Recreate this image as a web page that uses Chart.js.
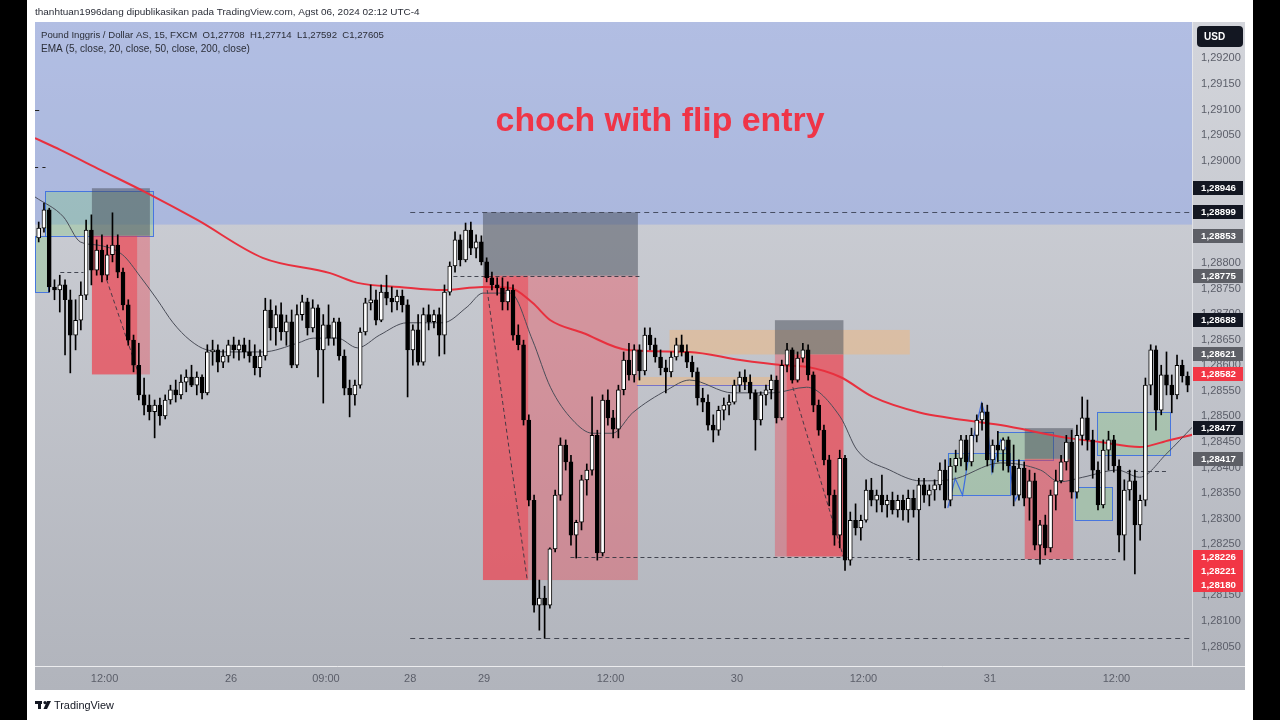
<!DOCTYPE html>
<html><head><meta charset="utf-8">
<script src="https://cdn.jsdelivr.net/npm/chart.js@4.4.1/dist/chart.umd.min.js"></script>
<style>
html,body{margin:0;padding:0;background:#000;width:1280px;height:720px;overflow:hidden}
canvas{position:absolute;left:0;top:0}
</style></head><body>
<canvas id="c" width="1280" height="720"></canvas>
<script>
// GBP/USD 15 (drawn as 30-min candles), hours of trading time from 29 Jul 00:00
const opens=[
1.28849,1.28868,1.28904,1.28753,1.28747,1.28757,1.28728,1.28659,1.28688,1.28737,
1.28864,1.28786,1.28825,1.28776,1.28816,1.28835,1.28782,1.28718,1.28649,1.28600,
1.28542,1.28522,1.28509,1.28522,1.28501,1.28532,1.28552,1.28542,1.28567,1.28577,
1.28561,1.28577,1.28546,1.28626,1.28630,1.28606,1.28618,1.28640,1.28630,1.28640,
1.28626,1.28618,1.28595,1.28618,1.28708,1.28673,1.28699,1.28665,1.28685,1.28600,
1.28699,1.28724,1.28673,1.28712,1.28630,1.28679,1.28653,1.28685,1.28618,1.28555,
1.28542,1.28561,1.28665,1.28722,1.28728,1.28688,1.28743,1.28731,1.28724,1.28735,
1.28718,1.28630,1.28669,1.28606,1.28699,1.28685,1.28699,1.28659,1.28743,1.28794,
1.28845,1.28806,1.28864,1.28829,1.28841,1.28802,1.28771,1.28757,1.28751,1.28724,
1.28747,1.28659,1.28640,1.28493,1.28336,1.28131,1.28145,1.28131,1.28241,1.28346,
1.28444,1.28411,1.28268,1.28293,1.28376,1.28395,1.28463,1.28233,1.28532,1.28497,
1.28475,1.28552,1.28610,1.28581,1.28630,1.28589,1.28659,1.28640,1.28616,1.28595,
1.28587,1.28616,1.28640,1.28626,1.28606,1.28587,1.28536,1.28528,1.28483,1.28473,
1.28512,1.28522,1.28528,1.28561,1.28577,1.28567,1.28546,1.28493,1.28542,1.28552,
1.28571,1.28497,1.28600,1.28630,1.28571,1.28614,1.28630,1.28581,1.28522,1.28473,
1.28415,1.28346,1.28268,1.28418,1.28219,1.28297,1.28282,1.28297,1.28356,1.28336,
1.28346,1.28327,1.28336,1.28317,1.28336,1.28317,1.28340,1.28317,1.28366,1.28346,
1.28356,1.28366,1.28395,1.28336,1.28403,1.28418,1.28454,1.28411,1.28463,1.28493,
1.28509,1.28415,1.28444,1.28434,1.28454,1.28403,1.28346,1.28399,1.28340,1.28374,
1.28248,1.28288,1.28243,1.28346,1.28374,1.28411,1.28450,1.28352,1.28463,1.28497,
1.28454,1.28395,1.28327,1.28434,1.28454,1.28403,1.28268,1.28356,1.28374,1.28288,
1.28336,1.28561,1.28630,1.28512,1.28581,1.28561,1.28542,1.28600,1.28579];
const highs=[
1.28880,1.28917,1.28907,1.28767,1.28776,1.28767,1.28747,1.28728,1.28763,1.28884,
1.28894,1.28845,1.28855,1.28835,1.28898,1.28855,1.28790,1.28728,1.28659,1.28643,
1.28575,1.28542,1.28532,1.28536,1.28542,1.28561,1.28571,1.28581,1.28591,1.28600,
1.28587,1.28581,1.28640,1.28649,1.28640,1.28630,1.28649,1.28655,1.28649,1.28653,
1.28649,1.28640,1.28630,1.28731,1.28728,1.28716,1.28722,1.28698,1.28708,1.28718,
1.28737,1.28731,1.28728,1.28718,1.28699,1.28718,1.28692,1.28692,1.28630,1.28571,
1.28571,1.28673,1.28731,1.28757,1.28747,1.28757,1.28776,1.28753,1.28747,1.28747,
1.28728,1.28679,1.28699,1.28712,1.28718,1.28708,1.28712,1.28757,1.28802,1.28861,
1.28855,1.28878,1.28880,1.28855,1.28853,1.28810,1.28782,1.28771,1.28771,1.28763,
1.28757,1.28679,1.28649,1.28503,1.28346,1.28180,1.28168,1.28243,1.28356,1.28458,
1.28454,1.28424,1.28297,1.28385,1.28407,1.28538,1.28473,1.28542,1.28552,1.28512,
1.28561,1.28626,1.28643,1.28640,1.28640,1.28673,1.28673,1.28653,1.28630,1.28610,
1.28626,1.28653,1.28659,1.28640,1.28618,1.28595,1.28555,1.28542,1.28503,1.28520,
1.28536,1.28542,1.28571,1.28587,1.28591,1.28581,1.28552,1.28548,1.28561,1.28581,
1.28579,1.28610,1.28643,1.28634,1.28626,1.28643,1.28640,1.28587,1.28532,1.28483,
1.28424,1.28356,1.28434,1.28424,1.28313,1.28329,1.28307,1.28376,1.28379,1.28356,
1.28385,1.28346,1.28352,1.28346,1.28346,1.28356,1.28356,1.28379,1.28379,1.28366,
1.28376,1.28409,1.28415,1.28418,1.28434,1.28463,1.28463,1.28477,1.28503,1.28526,
1.28522,1.28454,1.28471,1.28458,1.28460,1.28444,1.28415,1.28411,1.28395,1.28389,
1.28297,1.28307,1.28356,1.28395,1.28424,1.28463,1.28473,1.28483,1.28538,1.28532,
1.28473,1.28411,1.28454,1.28471,1.28463,1.28415,1.28376,1.28395,1.28395,1.28346,
1.28575,1.28640,1.28638,1.28600,1.28626,1.28581,1.28620,1.28610,1.28587];
const lows=[
1.28841,1.28860,1.28743,1.28728,1.28704,1.28620,1.28585,1.28630,1.28669,1.28728,
1.28757,1.28776,1.28763,1.28767,1.28802,1.28771,1.28708,1.28639,1.28587,1.28532,
1.28503,1.28493,1.28458,1.28483,1.28495,1.28524,1.28528,1.28534,1.28548,1.28558,
1.28542,1.28534,1.28542,1.28600,1.28587,1.28595,1.28606,1.28614,1.28610,1.28614,
1.28606,1.28581,1.28577,1.28610,1.28649,1.28639,1.28649,1.28639,1.28595,1.28595,
1.28688,1.28659,1.28665,1.28577,1.28526,1.28639,1.28639,1.28610,1.28542,1.28499,
1.28522,1.28555,1.28659,1.28708,1.28679,1.28685,1.28718,1.28704,1.28708,1.28704,
1.28538,1.28600,1.28600,1.28600,1.28669,1.28673,1.28618,1.28622,1.28737,1.28782,
1.28794,1.28802,1.28816,1.28810,1.28796,1.28763,1.28747,1.28737,1.28708,1.28708,
1.28649,1.28630,1.28483,1.28325,1.28117,1.28082,1.28066,1.28125,1.28235,1.28336,
1.28395,1.28248,1.28223,1.28278,1.28346,1.28385,1.28219,1.28227,1.28483,1.28458,
1.28458,1.28542,1.28571,1.28567,1.28571,1.28581,1.28630,1.28606,1.28581,1.28546,
1.28577,1.28610,1.28618,1.28595,1.28577,1.28522,1.28509,1.28473,1.28450,1.28463,
1.28493,1.28503,1.28524,1.28548,1.28552,1.28534,1.28434,1.28483,1.28522,1.28534,
1.28487,1.28493,1.28587,1.28565,1.28567,1.28606,1.28571,1.28509,1.28463,1.28405,
1.28325,1.28248,1.28243,1.28199,1.28209,1.28268,1.28258,1.28293,1.28325,1.28313,
1.28313,1.28303,1.28309,1.28303,1.28297,1.28293,1.28303,1.28219,1.28332,1.28325,
1.28336,1.28356,1.28321,1.28325,1.28391,1.28403,1.28395,1.28403,1.28450,1.28473,
1.28403,1.28391,1.28411,1.28395,1.28391,1.28325,1.28336,1.28325,1.28297,1.28239,
1.28211,1.28229,1.28235,1.28317,1.28370,1.28395,1.28340,1.28340,1.28444,1.28434,
1.28379,1.28317,1.28321,1.28395,1.28391,1.28235,1.28219,1.28336,1.28192,1.28258,
1.28325,1.28542,1.28473,1.28503,1.28542,1.28507,1.28534,1.28567,1.28548];
const closes=[
1.28868,1.28904,1.28753,1.28747,1.28757,1.28728,1.28659,1.28688,1.28737,1.28864,
1.28786,1.28825,1.28776,1.28816,1.28835,1.28782,1.28718,1.28649,1.28600,1.28542,
1.28522,1.28509,1.28522,1.28501,1.28532,1.28552,1.28542,1.28567,1.28577,1.28561,
1.28577,1.28546,1.28626,1.28630,1.28606,1.28618,1.28640,1.28630,1.28640,1.28626,
1.28618,1.28595,1.28618,1.28708,1.28673,1.28699,1.28665,1.28685,1.28600,1.28699,
1.28724,1.28673,1.28712,1.28630,1.28679,1.28653,1.28685,1.28618,1.28555,1.28542,
1.28561,1.28665,1.28722,1.28728,1.28688,1.28743,1.28731,1.28724,1.28735,1.28718,
1.28630,1.28669,1.28606,1.28699,1.28685,1.28699,1.28659,1.28743,1.28794,1.28845,
1.28806,1.28864,1.28829,1.28841,1.28802,1.28771,1.28757,1.28751,1.28724,1.28747,
1.28659,1.28640,1.28493,1.28336,1.28131,1.28145,1.28131,1.28241,1.28346,1.28444,
1.28411,1.28268,1.28293,1.28376,1.28395,1.28463,1.28233,1.28532,1.28497,1.28475,
1.28552,1.28610,1.28581,1.28630,1.28589,1.28659,1.28640,1.28616,1.28595,1.28587,
1.28616,1.28640,1.28626,1.28606,1.28587,1.28536,1.28528,1.28483,1.28473,1.28512,
1.28522,1.28528,1.28561,1.28577,1.28567,1.28546,1.28493,1.28542,1.28552,1.28571,
1.28497,1.28600,1.28630,1.28571,1.28614,1.28630,1.28581,1.28522,1.28473,1.28415,
1.28346,1.28268,1.28418,1.28219,1.28297,1.28282,1.28297,1.28356,1.28336,1.28346,
1.28327,1.28336,1.28317,1.28336,1.28317,1.28340,1.28317,1.28366,1.28346,1.28356,
1.28366,1.28395,1.28336,1.28403,1.28418,1.28454,1.28411,1.28463,1.28493,1.28509,
1.28415,1.28444,1.28434,1.28454,1.28403,1.28346,1.28399,1.28340,1.28374,1.28248,
1.28288,1.28243,1.28346,1.28374,1.28411,1.28450,1.28352,1.28463,1.28497,1.28454,
1.28395,1.28327,1.28434,1.28454,1.28403,1.28268,1.28356,1.28374,1.28288,1.28336,
1.28561,1.28630,1.28512,1.28581,1.28561,1.28542,1.28600,1.28579,1.28561];
// bar times: regular 30-minute grid, first bar at -42.25 h
const firstBarHour=-42.25, barHours=0.5;
const times=opens.map((_,i)=>firstBarHour+barHours*i);

const timeTicks=[-36,-24,-15,-7,0,12,24,36,48,60];
const timeTickLabels=['12:00','26','09:00','28','29','12:00','30','12:00','31','12:00'];
const priceTicks=[1.2805,1.2810,1.2815,1.2820,1.2825,1.2830,1.2835,1.2840,1.2845,1.2850,1.2855,1.2860,
1.2865,1.2870,1.2875,1.2880,1.2885,1.2890,1.2895,1.2900,1.2905,1.2910,1.2915,1.2920];

const ema200T=[-42.6,-40.2,-36.4,-32.0,-27.2,-21.0,-14.6,-12.0,-8.0,-3.9,-0.1,2.5,4.6,6.3,9.4,13.6,19.5,24.3,28.4,30.6,33.8,36.9,41.4,44.2,49.0,55.3,58.4,62.2,65.1,67.2];
const ema200V=[1.29044,1.29021,1.28982,1.28937,1.28884,1.28810,1.28780,1.28761,1.28753,1.28747,1.28753,1.28751,1.28722,1.28688,1.28663,1.28630,1.28626,1.28610,1.28600,1.28597,1.28577,1.28538,1.28507,1.28497,1.28483,1.28458,1.28450,1.28440,1.28454,1.28464];
const ema50T=[-42.6,-39.9,-38.3,-36.7,-34.3,-32.6,-31.0,-29.5,-27.9,-26.3,-24.1,-21.0,-17.7,-16.2,-13.9,-12.0,-9.9,-7.3,-3.9,-1.6,-0.1,2.5,4.6,6.3,8.4,10.3,12.2,14.1,17.4,19.5,23.6,27.4,30.6,33.8,35.4,38.5,41.4,44.2,49.0,52.8,54.6,56.8,60.1,62.2,64.8,67.2];
const ema50V=[1.28929,1.28890,1.28841,1.28835,1.28816,1.28773,1.28728,1.28683,1.28649,1.28630,1.28626,1.28626,1.28643,1.28653,1.28653,1.28634,1.28659,1.28683,1.28683,1.28714,1.28741,1.28741,1.28649,1.28557,1.28493,1.28467,1.28467,1.28507,1.28552,1.28571,1.28546,1.28546,1.28557,1.28499,1.28434,1.28395,1.28374,1.28376,1.28409,1.28395,1.28372,1.28381,1.28395,1.28381,1.28428,1.28479];

const labelPrices=[1.28946,1.28899,1.28853,1.28775,1.28688,1.28621,1.28582,1.28477,1.28417,1.28226,1.28221,1.28180];
const labelKinds=['dark','dark','gray','gray','dark','gray','red','dark','gray','red','red','red'];

// styles
const FONT="'Liberation Sans Narrow','Liberation Sans',Roboto,sans-serif";
const GREEN='rgba(120,200,120,0.30)', BLUE='rgba(60,110,225,0.9)', GRAY='rgba(70,76,88,0.50)';
const RED='rgba(242,54,69,0.66)', PINK='rgba(242,54,69,0.35)', RED2='rgba(242,54,69,0.50)', TAN='rgba(255,180,100,0.38)';
const DASH='rgba(45,48,60,0.85)';

// drawing tools (data coordinates: hours, price)
const drawings=[
 {k:'rect',t:[-43,68],p:[1.28875,1.2930],fill:'rgba(120,150,240,0.36)'},
 {k:'line',t:[-42.6,-42.2],p:[1.29099,1.29099],color:'#222',w:1},
 {k:'line',t:[-42.6,-42.3],p:[1.28988,1.28988],color:'#222',w:1},
 {k:'line',t:[-41.9,-41.6],p:[1.28988,1.28988],color:'#222',w:1},
 {k:'rect',t:[-42.6,-41.4],p:[1.28743,1.28853],fill:GREEN,stroke:BLUE},
 {k:'rect',t:[-41.65,-31.4],p:[1.28853,1.28940],fill:GREEN,stroke:BLUE},
 {k:'rect',t:[-37.2,-31.7],p:[1.28853,1.28946],fill:GRAY},
 {k:'rect',t:[-37.2,-32.9],p:[1.28582,1.28853],fill:RED},
 {k:'rect',t:[-32.9,-31.7],p:[1.28582,1.28853],fill:PINK},
 {k:'line',t:[-40.2,-38.0],p:[1.28782,1.28782],color:DASH,dash:[4,3]},
 {k:'line',t:[-35.8,-32.9],p:[1.28767,1.28591],color:DASH,dash:[4,3]},
 {k:'line',t:[-7.0,68],p:[1.28899,1.28899],color:'rgba(60,66,85,0.9)',dash:[5,4]},
 {k:'line',t:[-7.0,68],p:[1.28066,1.28066],color:DASH,dash:[5,4]},
 {k:'rect',t:[-0.1,14.6],p:[1.28775,1.28899],fill:GRAY},
 {k:'rect',t:[-0.1,4.2],p:[1.28180,1.28775],fill:RED},
 {k:'rect',t:[4.2,14.6],p:[1.28180,1.28775],fill:PINK},
 {k:'line',t:[-2.9,14.8],p:[1.28775,1.28775],color:DASH,dash:[4,3]},
 {k:'line',t:[0.3,4.1],p:[1.28747,1.28180],color:DASH,dash:[4,3]},
 {k:'line',t:[8.2,40.6],p:[1.28226,1.28226],color:DASH,dash:[4,3]},
 {k:'line',t:[40.3,60.1],p:[1.28221,1.28221],color:DASH,dash:[4,3]},
 {k:'rect',t:[17.6,40.4],p:[1.28621,1.28669],fill:TAN},
 {k:'rect',t:[14.5,27.4],p:[1.28561,1.28577],fill:TAN},
 {k:'line',t:[14.5,27.4],p:[1.28561,1.28561],color:'rgba(110,105,200,0.9)',w:1},
 {k:'rect',t:[27.6,34.1],p:[1.28621,1.28688],fill:GRAY},
 {k:'rect',t:[27.6,28.7],p:[1.28226,1.28621],fill:PINK},
 {k:'rect',t:[28.7,34.1],p:[1.28226,1.28621],fill:RED},
 {k:'line',t:[29.3,34.1],p:[1.28557,1.28225],color:DASH,dash:[4,3]},
 {k:'rect',t:[44.0,49.9],p:[1.28346,1.28428],fill:GREEN,stroke:BLUE},
 {k:'rect',t:[48.7,54.0],p:[1.28415,1.28469],fill:GREEN,stroke:BLUE},
 {k:'rect',t:[51.3,55.9],p:[1.28417,1.28477],fill:GRAY},
 {k:'rect',t:[51.3,55.9],p:[1.28221,1.28417],fill:RED2},
 {k:'rect',t:[56.1,59.6],p:[1.28297,1.28362],fill:GREEN,stroke:BLUE},
 {k:'rect',t:[58.2,65.1],p:[1.28424,1.28509],fill:GREEN,stroke:BLUE},
 {k:'line',t:[61.0,64.8],p:[1.28393,1.28393],color:DASH,dash:[4,3]},
 {k:'poly',t:[44.0,44.7,45.4,45.9,47.2,47.7,48.2,49.0,49.6,50.4,50.9],
  p:[1.28321,1.28379,1.28346,1.28411,1.28526,1.28493,1.28391,1.28454,1.28434,1.28336,1.28356],color:'rgba(50,100,230,0.9)',w:1.2}
];
const titleText={text:'choch with flip entry',t:16.7,p:1.29076};

function fitFont(ctx,text,width,weight){
  ctx.font=weight+' 20px '+FONT;
  const w=ctx.measureText(text).width;
  const s=20*width/w;
  ctx.font=weight+' '+s.toFixed(2)+'px '+FONT;
}

const bgPlugin={
  id:'bg',
  beforeDraw(chart){
    const ctx=chart.ctx;
    ctx.save();
    ctx.fillStyle='#000';ctx.fillRect(0,0,1280,720);
    ctx.fillStyle='#fff';ctx.fillRect(27,0,1226,720);
    const g=ctx.createLinearGradient(0,22,0,690);
    g.addColorStop(0,'#d3d5db');g.addColorStop(1,'#b1b4bc');
    ctx.fillStyle=g;ctx.fillRect(35,22,1210,668);
    ctx.restore();
  },
  beforeDatasetsDraw(chart){
    const ctx=chart.ctx, xs=chart.scales.x, ys=chart.scales.y, a=chart.chartArea;
    ctx.save();
    ctx.beginPath();ctx.rect(a.left,a.top,a.right-a.left,a.bottom-a.top);ctx.clip();
    for(const d of drawings){
      if(d.k==='rect'){
        const x1=xs.getPixelForValue(d.t[0]), x2=xs.getPixelForValue(d.t[1]);
        const y1=ys.getPixelForValue(d.p[1]), y2=ys.getPixelForValue(d.p[0]);
        ctx.fillStyle=d.fill;ctx.fillRect(x1,y1,x2-x1,y2-y1);
        if(d.stroke){ctx.strokeStyle=d.stroke;ctx.lineWidth=1;ctx.setLineDash([]);
          ctx.strokeRect(Math.round(x1)+0.5,Math.round(y1)+0.5,Math.round(x2-x1),Math.round(y2-y1));}
      } else {
        ctx.strokeStyle=d.color;ctx.lineWidth=d.w||1;ctx.setLineDash(d.dash||[]);
        ctx.beginPath();
        d.t.forEach((t,i)=>{
          const x=xs.getPixelForValue(t), y=Math.round(ys.getPixelForValue(d.p[i]))+0.5;
          const yy=(d.k==='poly'||d.p[0]!==d.p[1])?ys.getPixelForValue(d.p[i]):y;
          if(i===0)ctx.moveTo(x,yy);else ctx.lineTo(x,yy);
        });
        ctx.stroke();
      }
    }
    ctx.setLineDash([]);
    // title annotation
    const tx=xs.getPixelForValue(titleText.t), ty=ys.getPixelForValue(titleText.p);
    fitFont(ctx,titleText.text,329,'bold');
    ctx.fillStyle='#ef3547';ctx.textAlign='center';ctx.textBaseline='middle';
    ctx.fillText(titleText.text,tx,ty);
    ctx.restore();
  },
  afterDraw(chart){
    const ctx=chart.ctx, ys=chart.scales.y, a=chart.chartArea;
    ctx.save();
    // separators
    ctx.strokeStyle='rgba(255,255,255,0.75)';ctx.lineWidth=1;
    ctx.beginPath();ctx.moveTo(35,a.bottom+0.5);ctx.lineTo(1245,a.bottom+0.5);ctx.stroke();
    ctx.strokeStyle='rgba(255,255,255,0.45)';
    ctx.beginPath();ctx.moveTo(a.right+0.5,22);ctx.lineTo(a.right+0.5,a.bottom);ctx.stroke();
    // price labels
    const items=labelPrices.map((p,i)=>({p,k:labelKinds[i],y:ys.getPixelForValue(p)})).sort((u,v)=>u.y-v.y);
    let last=-1e9;
    for(const it of items){ if(it.y<last+14) it.y=last+14; last=it.y; }
    const fills={dark:'#131722',gray:'#5d5f66',red:'#f23645'};
    for(const it of items){
      ctx.fillStyle=fills[it.k];
      ctx.fillRect(1193,Math.round(it.y-7),50,14);
    }
    ctx.textAlign='left';ctx.textBaseline='middle';
    for(const it of items){
      ctx.fillStyle='#fff';
      fitFont(ctx,it.p.toFixed(5).replace('.',','),35,'bold');
      ctx.fillText(it.p.toFixed(5).replace('.',','),1201,Math.round(it.y)+0.5);
    }
    // USD badge
    ctx.fillStyle='#131722';
    ctx.beginPath();ctx.roundRect(1197,26,46,21,4);ctx.fill();
    ctx.fillStyle='#fff';ctx.font='bold 10px '+FONT;ctx.textBaseline='middle';
    ctx.fillText('USD',1204,37);
    // header texts
    ctx.fillStyle='#2b2e38';ctx.textBaseline='middle';ctx.textAlign='left';
    fitFont(ctx,'thanhtuan1996dang dipublikasikan pada TradingView.com, Agst 06, 2024 02:12 UTC-4',385,'normal');
    ctx.fillText('thanhtuan1996dang dipublikasikan pada TradingView.com, Agst 06, 2024 02:12 UTC-4',35,12);
    fitFont(ctx,'Pound Inggris / Dollar AS, 15, FXCM  O1,27708  H1,27714  L1,27592  C1,27605',343,'normal');
    ctx.fillText('Pound Inggris / Dollar AS, 15, FXCM  O1,27708  H1,27714  L1,27592  C1,27605',41,35);
    fitFont(ctx,'EMA (5, close, 20, close, 50, close, 200, close)',209,'normal');
    ctx.fillText('EMA (5, close, 20, close, 50, close, 200, close)',41,49);
    // footer logo
    ctx.fillStyle='#131722';
    ctx.fillRect(35,701,7,3);ctx.fillRect(38,701,3,8);
    ctx.beginPath();ctx.arc(45,702.6,1.6,0,Math.PI*2);ctx.fill();
    ctx.beginPath();ctx.moveTo(47,701);ctx.lineTo(51,701);ctx.lineTo(47,709);ctx.lineTo(43.5,709);ctx.closePath();ctx.fill();
    fitFont(ctx,'TradingView',60,'normal');
    ctx.fillText('TradingView',54,705.5);
    ctx.restore();
  }
};

new Chart(document.getElementById('c'),{
  type:'bar',
  data:{datasets:[
    {type:'line',label:'EMA200',data:ema200T.map((t,i)=>({x:t,y:ema200V[i]})),borderColor:'#e8303e',borderWidth:2,pointRadius:0,cubicInterpolationMode:'monotone',order:4},
    {type:'line',label:'EMA50',data:ema50T.map((t,i)=>({x:t,y:ema50V[i]})),borderColor:'#4a4d58',borderWidth:1,pointRadius:0,cubicInterpolationMode:'monotone',order:3},
    {type:'bar',label:'wick',data:times.map((t,i)=>({x:t,y:[lows[i],highs[i]]})),barThickness:1,grouped:false,backgroundColor:'#000',order:2},
    {type:'bar',label:'body',data:times.map((t,i)=>({x:t,y:[opens[i],closes[i]]})),barThickness:4,grouped:false,
      backgroundColor:(c)=>closes[c.dataIndex]>=opens[c.dataIndex]?'#ffffff':'#000000',borderColor:'#000',borderWidth:1,borderSkipped:false,order:1}
  ]},
  options:{
    responsive:false,animation:false,devicePixelRatio:1,
    layout:{padding:{left:35,right:35,top:22,bottom:30}},
    plugins:{legend:{display:false},tooltip:{enabled:false}},
    scales:{
      x:{type:'linear',min:-42.6,max:67.17,offset:false,bounds:'data',
        afterBuildTicks:(s)=>{s.ticks=timeTicks.map(v=>({value:v}));},
        afterFit:(s)=>{s.height=24;},
        grid:{display:false,drawTicks:false},border:{display:false},
        ticks:{autoSkip:false,maxRotation:0,padding:6,color:'#5b5e69',font:{family:FONT,size:11},
          callback:(v,i)=>timeTickLabels[i]}},
      y:{type:'linear',position:'right',min:1.28012,max:1.29271,bounds:'data',
        afterBuildTicks:(s)=>{s.ticks=priceTicks.map(v=>({value:v}));},
        afterFit:(s)=>{s.width=53;},
        grid:{display:false,drawTicks:false},border:{display:false},
        ticks:{autoSkip:false,padding:9,color:'#5b5e69',font:{family:FONT,size:11},
          callback:(v)=>Number(v).toFixed(5).replace('.',',')}}
    }
  },
  plugins:[bgPlugin]
});
</script>
</body></html>
